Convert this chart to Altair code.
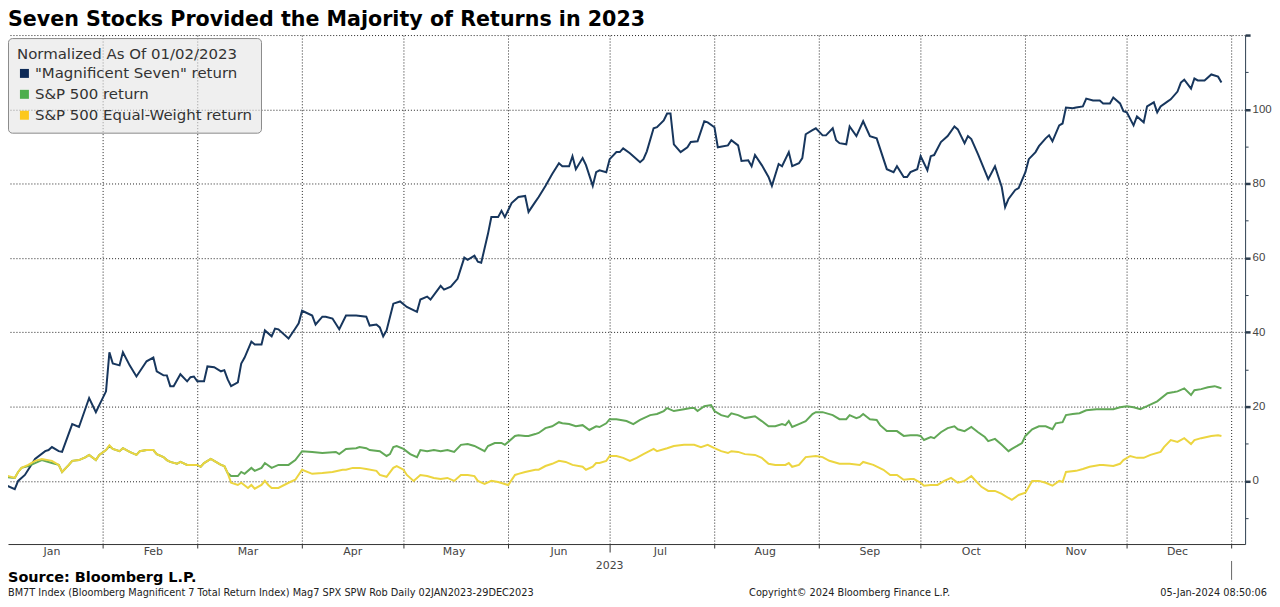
import altair as alt
import numpy as np
import pandas as pd

# ---------------- data (day of year 2023, normalized return in %) ----------------
series_names = ['"Magnificent Seven" return', "S&P 500 return", "S&P 500 Equal-Weight return"]
series_colors = ["#17365d", "#62a857", "#ecd540"]
legend_colors = ["#0d2a57", "#4cae4c", "#fcc81e"]

mag7_day = [2, 3, 6, 7, 9, 12, 15, 16, 17, 19, 20, 23, 25, 28, 30, 31, 33, 34, 35, 37, 38, 40, 42, 45, 47, 48, 50, 51, 52, 53,
            55, 57, 58, 59, 60, 62, 63, 65, 67, 68, 69, 70, 72, 73, 74, 76, 77, 79, 80, 82, 83, 84, 87, 89, 90, 91, 94, 95, 97, 98,
            100, 102, 104, 107, 110, 111, 113, 114, 115, 116, 118, 120, 122, 125, 126, 128, 129, 132, 133, 135, 137, 139, 140, 142, 143, 144, 146, 147, 149, 150,
            151, 153, 155, 157, 158, 160, 161, 163, 165, 167, 168, 170, 171, 172, 174, 175, 177, 178, 179, 181, 182, 184, 185, 186, 188, 189, 191, 192, 193, 195,
            196, 198, 199, 200, 201, 203, 205, 206, 208, 210, 211, 213, 214, 217, 218, 220, 221, 223, 224, 225, 227, 229, 230, 232, 233, 235, 236, 238, 239, 240,
            242, 243, 245, 246, 248, 249, 250, 252, 253, 255, 257, 259, 261, 264, 266, 267, 269, 270, 271, 273, 274, 276, 277, 278, 280, 282, 284, 285, 287, 288,
            289, 291, 294, 296, 298, 299, 300, 302, 303, 305, 306, 308, 309, 311, 312, 313, 315, 316, 317, 319, 320, 322, 323, 325, 327, 328, 330, 331, 333, 334,
            335, 337, 338, 340, 341, 343, 344, 345, 347, 348, 350, 351, 352, 354, 355, 356, 358, 360, 362, 363]
mag7_ret = [0, -1, -2.2, 0, 1.6, 5.9, 8, 8.3, 9.1, 8, 7.8, 15.3, 14.5, 22.3, 18.5, 20.4, 24.1, 34.6, 31.6, 31.1, 34.6, 31.1, 28.1, 32.2, 33.2, 29.5, 28.4, 28.4, 25.5, 25.5,
            28.7, 26.8, 27.9, 28.1, 26.8, 26.8, 30.8, 30.6, 29.5, 29.8, 27.3, 25.5, 26.5, 31.6, 33.2, 37.5, 36.7, 36.7, 40.5, 38.9, 41, 40.8, 38.3, 41, 42.4, 45.8, 44.5, 42.1, 44.2, 44.2,
            43.7, 40.8, 44.5, 44.5, 44.2, 41.8, 42.1, 41.3, 38.9, 40.5, 47.7, 48.3, 46.8, 45.5, 48.8, 49.6, 48.8, 52.5, 51.5, 52.3, 54.4, 60.1, 59.5, 60.6, 59, 58.7, 66.5, 71, 71, 72.7,
            71, 74.8, 76.4, 76.7, 72.4, 75.1, 76.4, 79.4, 82.6, 85.5, 84.7, 84.7, 87.4, 83.9, 86.9, 85, 79.4, 83.1, 83.6, 83.1, 86.6, 88.5, 88.5, 89.5, 88.2, 87.4, 85.8, 86.6, 88.7, 94.9,
            95.2, 97, 98.9, 98.9, 90.6, 88.5, 89.8, 91.2, 91.4, 96.8, 96.5, 95.2, 89.8, 90.3, 91.7, 90.3, 86.1, 86.3, 84.7, 87.7, 85, 81.8, 79.4, 85.3, 84.7, 88.5, 84.7, 85.5, 86.9, 93.3,
            94.4, 94.9, 93, 93, 94.9, 91.7, 90.9, 90.6, 95.4, 92.8, 96.8, 92.8, 92.2, 83.9, 83.1, 84.7, 81.8, 81.8, 83.1, 83.9, 87.4, 83.6, 87.4, 87.7, 91.2, 92.8, 95.4, 94.6, 90.9, 92.8,
            92, 87.9, 81.2, 84.7, 79.1, 73.7, 75.9, 78.3, 78.8, 83.1, 86.6, 88.5, 90.1, 92.2, 93, 91.4, 95.7, 96.2, 100.5, 100.3, 100.5, 100.8, 102.9, 102.4, 102.4, 101.6, 101.6, 103.2, 101.6, 99.5,
            99.2, 95.7, 98.1, 96.5, 100.8, 101.9, 99.2, 100.8, 102.1, 102.7, 104.8, 107.2, 108, 105.6, 108.3, 107.8, 107.8, 109.4, 108.8, 107.2]

spx_day = [2, 4, 6, 7, 8, 10, 12, 14, 17, 19, 20, 22, 23, 25, 27, 28, 30, 31, 33, 34, 35, 37, 38, 40, 42, 43, 45, 47, 48, 50,
           51, 52, 54, 55, 57, 58, 60, 61, 62, 64, 65, 67, 68, 69, 70, 72, 73, 74, 76, 77, 79, 80, 82, 84, 87, 89, 91, 94, 97, 101,
           102, 104, 107, 108, 110, 111, 114, 116, 117, 118, 119, 121, 123, 125, 126, 128, 130, 132, 134, 136, 138, 140, 142, 145, 146, 148, 150, 151, 154, 155,
           157, 158, 160, 161, 163, 165, 167, 168, 170, 172, 174, 176, 178, 179, 181, 182, 184, 187, 189, 191, 194, 196, 198, 199, 201, 204, 206, 207, 208, 210,
           212, 213, 215, 217, 218, 220, 222, 225, 227, 229, 231, 233, 234, 235, 236, 238, 240, 242, 243, 245, 248, 250, 252, 253, 255, 256, 257, 259, 261, 262,
           264, 267, 269, 271, 273, 274, 275, 277, 278, 280, 282, 284, 285, 287, 289, 291, 293, 294, 296, 298, 300, 301, 304, 305, 307, 309, 311, 313, 314, 316,
           317, 319, 321, 323, 326, 328, 330, 331, 333, 335, 337, 339, 341, 344, 347, 349, 350, 352, 354, 355, 357, 359, 361, 362, 363]
spx_ret = [0, 1.0, 0.8, 2.4, 3.5, 4.0, 4.8, 5.6, 4.8, 4.3, 2.4, 4.3, 5.4, 5.6, 6.4, 7, 5.6, 7, 8.3, 9.4, 8.6, 8, 8.8, 7.8, 7, 8, 8.3, 8.3, 7.2, 6.4,
           5.6, 5.1, 4.6, 5.1, 4.3, 4.3, 4.3, 3.8, 4.8, 5.9, 5.4, 4.3, 4.0, 2.1, 1.3, 1.3, 2.4, 1.9, 3.5, 2.7, 3.5, 4.8, 3.5, 4.3, 4.3, 5.6, 8, 7.8, 7.5, 7.8,
           7.2, 8.6, 8.8, 9.1, 8.8, 8.3, 8, 6.7, 7.2, 9.1, 9.4, 8.6, 7.2, 6.4, 8.3, 8, 8.3, 8, 8.3, 7.8, 9.7, 9.9, 9.4, 8, 9.4, 10.2, 10.2, 9.7, 12.1, 12.3,
           12.1, 12.1, 12.6, 12.9, 14.2, 14.7, 15.8, 15.5, 15.3, 14.7, 15, 13.7, 14.7, 14.5, 15.5, 16.6, 16.6, 16.1, 15.3, 16.4, 17.7, 18, 18.8, 19.6, 18.8, 19.3, 19.6, 19.6, 18.8, 20.1,
           20.4, 18.8, 17.7, 17.2, 18.2, 17.7, 16.9, 17.4, 16.1, 14.7, 14.7, 15.3, 15, 16.1, 14.5, 15.3, 16.1, 18, 18.5, 18.5, 17.7, 16.6, 16.6, 17.7, 16.9, 17.2, 18, 16.6, 16.4, 15,
           13.4, 13.4, 12.1, 12.3, 12.3, 12.1, 11, 11.8, 11.5, 13.1, 14.2, 14.7, 13.9, 13.4, 14.5, 13.1, 11.8, 10.7, 11.3, 9.7, 8, 8.6, 10.2, 12.1, 13.9, 14.7, 14.7, 13.9, 15.5, 15.8,
           17.7, 18, 18.2, 19, 19.3, 19.3, 19.3, 19.3, 19.8, 20.1, 19.8, 19.3, 20.1, 21.4, 23.6, 23.9, 24.1, 24.9, 23.1, 24.4, 24.7, 25.2, 25.5, 25.2, 24.9]

spw_day = [2, 4, 6, 7, 8, 10, 12, 14, 17, 19, 20, 22, 23, 25, 27, 28, 30, 31, 33, 34, 35, 37, 38, 40, 42, 43, 45, 47, 48, 50,
           51, 52, 54, 55, 57, 58, 60, 61, 62, 64, 65, 67, 68, 69, 70, 72, 73, 75, 76, 77, 79, 80, 81, 82, 84, 87, 89, 91, 94, 97,
           100, 103, 104, 106, 108, 110, 113, 114, 116, 118, 119, 121, 122, 124, 126, 128, 130, 132, 134, 136, 138, 140, 142, 143, 145, 147, 149, 152, 154, 155,
           157, 160, 161, 163, 165, 167, 169, 171, 174, 175, 177, 178, 179, 181, 182, 184, 186, 188, 190, 192, 195, 196, 199, 201, 204, 206, 207, 209, 211, 213,
           215, 217, 218, 220, 222, 225, 227, 229, 231, 233, 234, 235, 236, 238, 240, 243, 245, 247, 250, 253, 256, 257, 260, 263, 265, 267, 269, 271, 272, 274,
           275, 277, 279, 281, 283, 285, 287, 289, 290, 292, 294, 296, 298, 300, 301, 303, 305, 307, 309, 311, 313, 315, 316, 317, 320, 322, 324, 327, 328, 331,
           333, 334, 336, 338, 340, 342, 345, 346, 348, 350, 352, 354, 355, 357, 360, 362, 363]
spw_ret = [0, 1.3, 0.8, 2.4, 3.5, 4.3, 5.4, 5.9, 5.4, 4.3, 2.4, 4.3, 5.4, 5.6, 6.4, 7, 5.6, 7, 8.3, 9.6, 8.6, 8, 8.8, 7.8, 7, 8, 8.3, 8.3, 7.2, 6.4,
           5.6, 5.1, 4.6, 5.1, 4.3, 4.3, 4.3, 3.8, 4.8, 5.9, 5.4, 4.3, 4, 2.1, -0.5, -1.1, -0.5, -1.9, -1.1, -2.1, -1.1, 0, -1.1, -1.9, -1.9, -0.5, 0.3, 3, 1.9, 2.1,
           2.4, 3, 3, 3.5, 3.5, 3.2, 2.7, 1.6, 1.1, 3.5, 4, 3, 1.6, 0, 1.6, 1.3, 0.8, 0.5, 0.8, 0, 1.6, 1.6, 1.3, 0, -0.8, 0, -0.3, -1.1, 1.6, 1.9,
           2.4, 3, 3, 4, 4.6, 5.4, 5.1, 4.3, 3.8, 3, 3.8, 4.8, 4.8, 5.4, 6.7, 6.7, 6.2, 5.4, 6.2, 7.2, 8.6, 8, 8.8, 9.4, 9.7, 9.7, 9.7, 9.1, 9.7, 8.8,
           8, 7.5, 8, 7.8, 7.2, 7, 6.2, 4.6, 4.3, 4.3, 4.3, 4.8, 3.8, 4.3, 6.4, 6.7, 6.4, 5.4, 4.6, 4.6, 4.3, 5.1, 4.3, 3, 1.6, 1.6, 0.3, 0.5, 0.5, -0.5,
           -1.3, -1.1, -1.1, 0, 0.8, -0.5, 0, 1.3, 0.3, -1.6, -2.7, -2.7, -3.5, -4.6, -5.1, -3.8, -3.2, 0, 0, -0.5, -1.3, 0, -0.3, 2.4, 2.7, 3.2, 3.8, 4.3, 4.3, 4,
           4.6, 5.6, 6.7, 6.2, 6.2, 7, 7.8, 9.1, 11, 10.5, 11.5, 9.9, 11, 11.5, 12.1, 12.3, 12.1]

month_labels = ["Jan", "Feb", "Mar", "Apr", "May", "Jun", "Jul", "Aug", "Sep", "Oct", "Nov", "Dec"]
month_label_day = [17, 16, 16, 16, 16, 16, 16, 16, 16, 16, 16, 16]
year_label = "2023"
y_tick_values = [-10, 0, 10, 20, 30, 40, 50, 60, 70, 80, 90, 100, 110, 120]

title_text = "Seven Stocks Provided the Majority of Returns in 2023"
legend_title = "Normalized As Of 01/02/2023"
source_text = "Source: Bloomberg L.P."
footnote_text = "BM7T Index (Bloomberg Magnificent 7 Total Return Index) Mag7 SPX SPW Rob  Daily 02JAN2023-29DEC2023"
copyright_text = "Copyright\u00a9 2024 Bloomberg Finance L.P."
stamp_text = "05-Jan-2024 08:50:06"

# ---------------- tables ----------------
YEAR0 = pd.Timestamp("2023-01-01")


def frame(days, rets, name):
    return pd.DataFrame({
        "date": YEAR0 + pd.to_timedelta(np.array(days) - 1, unit="D"),
        "ret": rets,
        "series": name,
    })


lines_df = pd.concat([
    frame(mag7_day, mag7_ret, series_names[0]),
    frame(spx_day, spx_ret, series_names[1]),
    frame(spw_day, spw_ret, series_names[2]),
], ignore_index=True)

legend_df = pd.DataFrame({"series": series_names})

months_df = pd.DataFrame({
    "date": [pd.Timestamp(year=2023, month=i + 1, day=d) for i, d in enumerate(month_label_day)],
    "label": month_labels,
})
year_df = pd.DataFrame({"date": [pd.Timestamp("2023-07-01")], "label": [year_label]})
yearend_df = pd.DataFrame({"date": [pd.Timestamp("2024-01-01")]})

W, H = 1242, 511
FONT = "DejaVu Sans"
GRID = "#222222"
AXIS = "#2d3e50"

# the page margin hides the first two sessions, as the reference starts at the very left edge
x_scale = alt.Scale(domain=[alt.DateTime(year=2023, month=1, date=4),
                            alt.DateTime(year=2024, month=1, date=5)])
y_scale = alt.Scale(domain=[-17, 120], nice=False, zero=False)

x_axis = alt.Axis(
    title=None, labels=False, tickCount={"interval": "month", "step": 1},
    grid=True, gridDash=[1, 2], gridColor=GRID, gridWidth=1,
    domainColor="#333333", tickColor="#333333",
    tickSize={"condition": {"test": "month(datum.value) == 6", "value": 8}, "value": 4},
)

y_axis = alt.Axis(
    orient="right", title=None, values=y_tick_values,
    labelExpr="(datum.value >= 0 && datum.value <= 100 && datum.value % 20 == 0) ? datum.label : ''",
    grid=True, gridDash=[1, 2], gridColor=GRID, gridWidth=1,
    gridOpacity={"condition": {"test": "datum.value % 20 == 0", "value": 1}, "value": 0},
    tickSize={"condition": {"test": "datum.value % 20 == 0", "value": 5}, "value": 3},
    tickWidth={"condition": {"test": "datum.value % 20 == 0", "value": 2.5}, "value": 1},
    tickColor=AXIS, domainColor=AXIS, labelColor="#444444", labelFontSize=11.5,
    labelFont="Liberation Sans", labelPadding=2,
)

legend = alt.Legend(
    orient="none", legendX=0, legendY=3, title=legend_title,
    titleFont=FONT, titleFontSize=15, titleFontWeight="normal", titleColor="#333333",
    titlePadding=4, titleLimit=400,
    labelFont=FONT, labelFontSize=15, labelColor="#333333", labelLimit=400, labelOffset=3,
    symbolType="square", symbolSize=81, symbolStrokeWidth=0, symbolOpacity=1,
    fillColor="rgba(228,228,228,0.6)", strokeColor="#8a8a8a", cornerRadius=4,
    padding=9, rowPadding=5,
)

lines = alt.Chart(lines_df).mark_line(strokeWidth=2).encode(
    x=alt.X("date:T", scale=x_scale, axis=x_axis),
    y=alt.Y("ret:Q", scale=y_scale, axis=y_axis),
    color=alt.Color("series:N", scale=alt.Scale(domain=series_names, range=series_colors), legend=None),
    detail="series:N",
)

# invisible squares (placed outside the view) only feed the filled-square legend
legend_feed = alt.Chart(legend_df).mark_square(size=1, opacity=0, filled=True).encode(
    x=alt.value(-100),
    y=alt.value(-100),
    color=alt.Color("series:N", scale=alt.Scale(domain=series_names, range=legend_colors), legend=legend),
)

month_text = alt.Chart(months_df).mark_text(
    font=FONT, fontSize=11, color="#444444", baseline="middle", align="center"
).encode(x=alt.X("date:T", scale=x_scale), y=alt.value(H + 8), text="label:N")

year_text = alt.Chart(year_df).mark_text(
    font=FONT, fontSize=11, color="#444444", baseline="middle", align="center"
).encode(x=alt.X("date:T", scale=x_scale), y=alt.value(H + 22), text="label:N")

yearend_rule = alt.Chart(yearend_df).mark_rule(color="#666666", strokeWidth=1).encode(
    x=alt.X("date:T", scale=x_scale), y=alt.value(H + 17), y2=alt.value(H + 36)
)


def note(text, x, y, size, weight="normal", align="left", baseline="middle", color="#000000"):
    return alt.Chart(pd.DataFrame({"t": [text]})).mark_text(
        font=FONT, fontSize=size, fontWeight=weight, align=align, baseline=baseline, color=color
    ).encode(x=alt.value(x), y=alt.value(y), text="t:N")


title = note(title_text, 0, -9, 20.7, weight="bold", baseline="alphabetic")
source = note(source_text, 0, H + 34, 14.5, weight="bold")
footnote = note(footnote_text, 0, H + 52, 9.8, baseline="alphabetic", color="#222222")
copyright_ = note(copyright_text, 744, H + 52, 9.8, baseline="alphabetic", color="#222222")
stamp = note(stamp_text, 1264, H + 52, 9.8, align="right", baseline="alphabetic", color="#222222")

chart = alt.layer(
    lines, legend_feed, month_text, year_text, yearend_rule, title, source, footnote, copyright_, stamp
).resolve_scale(color="independent").properties(
    width=W, height=H,
    autosize=alt.AutoSizeParams(type="none"),
    padding={"left": 0, "top": 26, "right": 27, "bottom": 54},
).configure(font=FONT).configure_view(stroke=None)

chart.save("out.html", embed_options={"renderer": "svg", "actions": False})
